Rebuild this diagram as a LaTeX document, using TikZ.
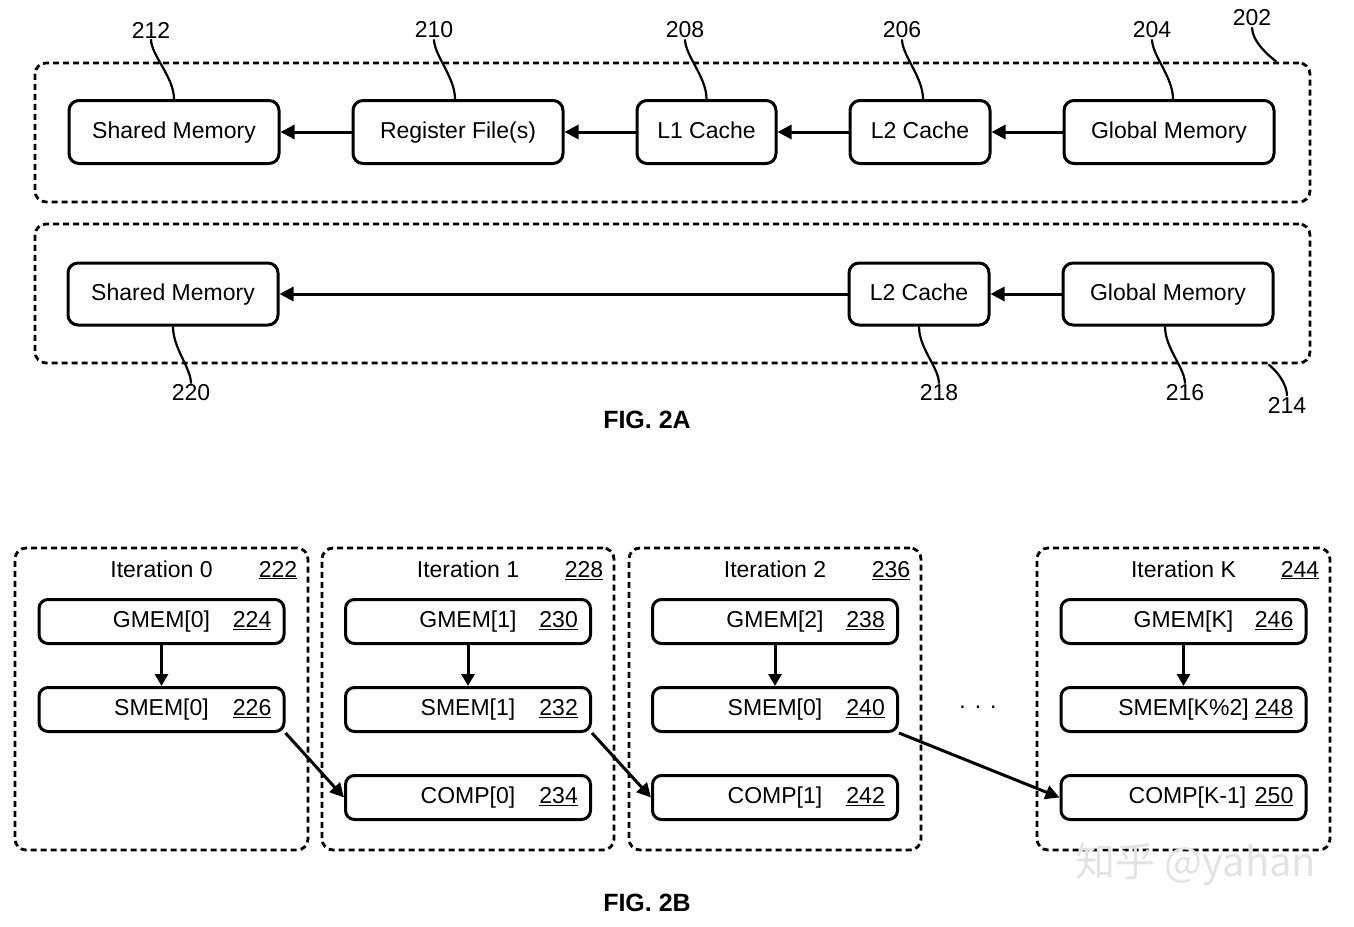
\documentclass[tikz,border=0pt]{standalone}
\usepackage{fontspec}
\setmainfont{Liberation Sans}
\newfontfamily\cjkfont{Noto Sans CJK SC}
\usetikzlibrary{arrows.meta,calc}
\begin{document}
\begin{tikzpicture}[x=1pt,y=-1pt,
  every node/.style={font=\fontsize{23}{27}\selectfont},
  box/.style={draw, line width=3pt, rounded corners=10pt, minimum height=63pt, inner sep=0pt, text height=17pt, text depth=5pt},
  ibox/.style={draw, line width=3pt, rounded corners=9pt, minimum height=44pt, minimum width=245pt, inner sep=0pt, text height=17pt, text depth=5pt},
  region/.style={draw, line width=2.8pt, dash pattern=on 6pt off 4pt, rounded corners=11pt, inner sep=0pt},
  arr/.style={line width=3pt, -{Triangle[length=14pt,width=14pt]}},
  varr/.style={line width=3pt, -{Triangle[length=12pt,width=13pt]}},
  callout/.style={line width=2.2pt},
  num/.style={inner sep=1pt},
]
\useasboundingbox (0,0) rectangle (1354,926);

% ---------------- FIG 2A, upper ----------------
\node[region, minimum width=1275pt, minimum height=139pt] (box202) at (672.5,132.5) {};
\node[box, minimum width=210pt] (sm1) at (174,132) {Shared Memory};
\node[box, minimum width=210pt] (rf)  at (458,132) {Register File(s)};
\node[box, minimum width=139pt] (l1)  at (706.5,132) {L1 Cache};
\node[box, minimum width=140pt] (l2)  at (920,132) {L2 Cache};
\node[box, minimum width=210pt] (gm)  at (1169,132) {Global Memory};
\draw[arr] (gm) -- (l2);
\draw[arr] (l2) -- (l1);
\draw[arr] (l1) -- (rf);
\draw[arr] (rf) -- (sm1);

\node[num] (n212) at (151,30) {212};
\node[num] (n210) at (434,30) {210};
\node[num] (n208) at (685,30) {208};
\node[num] (n206) at (902,30) {206};
\node[num] (n204) at (1152,30) {204};
\node[num] (n202) at (1252,18) {202};
\draw[callout] (n212.south) .. controls +(0,16) and +(0,-22) .. (sm1.north);
\draw[callout] (n210.south) .. controls +(0,16) and +(0,-22) .. ($(rf.north)+(-3,0)$);
\draw[callout] (n208.south) .. controls +(0,16) and +(0,-22) .. (l1.north);
\draw[callout] (n206.south) .. controls +(0,16) and +(0,-22) .. ($(l2.north)+(3,0)$);
\draw[callout] (n204.south) .. controls +(0,16) and +(0,-22) .. ($(gm.north)+(4,0)$);
\draw[callout] (n202.south) .. controls +(0,14) and +(-8,-6) .. ($(box202.north east)+(-35,0)$);

% ---------------- FIG 2A, lower ----------------
\node[region, minimum width=1275pt, minimum height=139pt] (box214) at (672.5,293.5) {};
\node[box, minimum width=210pt, minimum height=62pt] (sm2) at (173,294) {Shared Memory};
\node[box, minimum width=140pt, minimum height=62pt] (l2b) at (919,294) {L2 Cache};
\node[box, minimum width=210pt, minimum height=62pt] (gm2) at (1168,294) {Global Memory};
\draw[arr] (gm2) -- (l2b);
\draw[arr] (l2b) -- (sm2);

\node[num] (n220) at (191,393) {220};
\node[num] (n218) at (939,393) {218};
\node[num] (n216) at (1185,393) {216};
\node[num] (n214) at (1287,405) {214};
\draw[callout] (sm2.south) .. controls +(0,22) and +(0,-16) .. (n220.north);
\draw[callout] (l2b.south) .. controls +(0,22) and +(0,-16) .. (n218.north);
\draw[callout] ($(gm2.south)+(-3,0)$) .. controls +(0,22) and +(0,-16) .. (n216.north);
\draw[callout] ($(box214.south east)+(-43,0)$) .. controls +(8,6) and +(0,-12) .. (n214.north);

\node[font=\bfseries\fontsize{25}{30}\selectfont] (fig2a) at (647,420) {FIG. 2A};

% ---------------- FIG 2B ----------------
% Iteration 0
\node[region, minimum width=293pt, minimum height=302pt] (it0) at (161.5,699) {};
\node (t0) at (161.5,569) {Iteration 0};
\node[num, anchor=base east] (n222) at ($(t0.base -| it0.east)+(-11,0)$) {\underline{222}};
\node[ibox] (g0) at (161.5,621.5) {GMEM[0]};
\node[num, anchor=base east] (n224) at ($(g0.base -| g0.east)+(-13,0)$) {\underline{224}};
\node[ibox] (s0) at (161.5,709.5) {SMEM[0]};
\node[num, anchor=base east] (n226) at ($(s0.base -| s0.east)+(-13,0)$) {\underline{226}};
\draw[varr] (g0) -- (s0);

% Iteration 1
\node[region, minimum width=292pt, minimum height=302pt] (it1) at (468,699) {};
\node (t1) at (468,569) {Iteration 1};
\node[num, anchor=base east] (n228) at ($(t1.base -| it1.east)+(-11,0)$) {\underline{228}};
\node[ibox] (g1) at (468,621.5) {GMEM[1]};
\node[num, anchor=base east] (n230) at ($(g1.base -| g1.east)+(-13,0)$) {\underline{230}};
\node[ibox] (s1) at (468,709.5) {SMEM[1]};
\node[num, anchor=base east] (n232) at ($(s1.base -| s1.east)+(-13,0)$) {\underline{232}};
\node[ibox] (c0) at (468,797.5) {COMP[0]};
\node[num, anchor=base east] (n234) at ($(c0.base -| c0.east)+(-13,0)$) {\underline{234}};
\draw[varr] (g1) -- (s1);

% Iteration 2
\node[region, minimum width=292pt, minimum height=302pt] (it2) at (775,699) {};
\node (t2) at (775,569) {Iteration 2};
\node[num, anchor=base east] (n236) at ($(t2.base -| it2.east)+(-11,0)$) {\underline{236}};
\node[ibox] (g2) at (775,621.5) {GMEM[2]};
\node[num, anchor=base east] (n238) at ($(g2.base -| g2.east)+(-13,0)$) {\underline{238}};
\node[ibox] (s2) at (775,709.5) {SMEM[0]};
\node[num, anchor=base east] (n240) at ($(s2.base -| s2.east)+(-13,0)$) {\underline{240}};
\node[ibox] (c1) at (775,797.5) {COMP[1]};
\node[num, anchor=base east] (n242) at ($(c1.base -| c1.east)+(-13,0)$) {\underline{242}};
\draw[varr] (g2) -- (s2);

% Iteration K
\node[region, minimum width=293pt, minimum height=302pt] (itK) at (1183.5,699) {};
\node (tK) at (1183.5,569) {Iteration K};
\node[num, anchor=base east] (n244) at ($(tK.base -| itK.east)+(-11,0)$) {\underline{244}};
\node[ibox] (gK) at (1183.5,621.5) {GMEM[K]};
\node[num, anchor=base east] (n246) at ($(gK.base -| gK.east)+(-13,0)$) {\underline{246}};
\node[ibox] (sK) at (1183.5,709.5) {SMEM[K\%2]};
\node[num, anchor=base east] (n248) at ($(sK.base -| sK.east)+(-13,0)$) {\underline{248}};
\node[ibox] (cK) at (1183.5,797.5) {\hspace*{8pt}COMP[K-1]};
\node[num, anchor=base east] (n250) at ($(cK.base -| cK.east)+(-13,0)$) {\underline{250}};
\draw[varr] (gK) -- (sK);

% cross-iteration arrows
\draw[arr] (s0.south east) -- (c0.west);
\draw[arr] (s1.south east) -- (c1.west);
\draw[arr] (s2.south east) -- (cK.west);

\node[anchor=base] (dots) at (978,708) {.\hspace{9pt}.\hspace{9pt}.};

\node[font=\bfseries\fontsize{25}{30}\selectfont] (fig2b) at (647,903) {FIG. 2B};

\node[font=\cjkfont\fontsize{40}{44}\selectfont, text=gray!22] (wm) at (1196,864) {知乎 @yahan};
\end{tikzpicture}
\end{document}
